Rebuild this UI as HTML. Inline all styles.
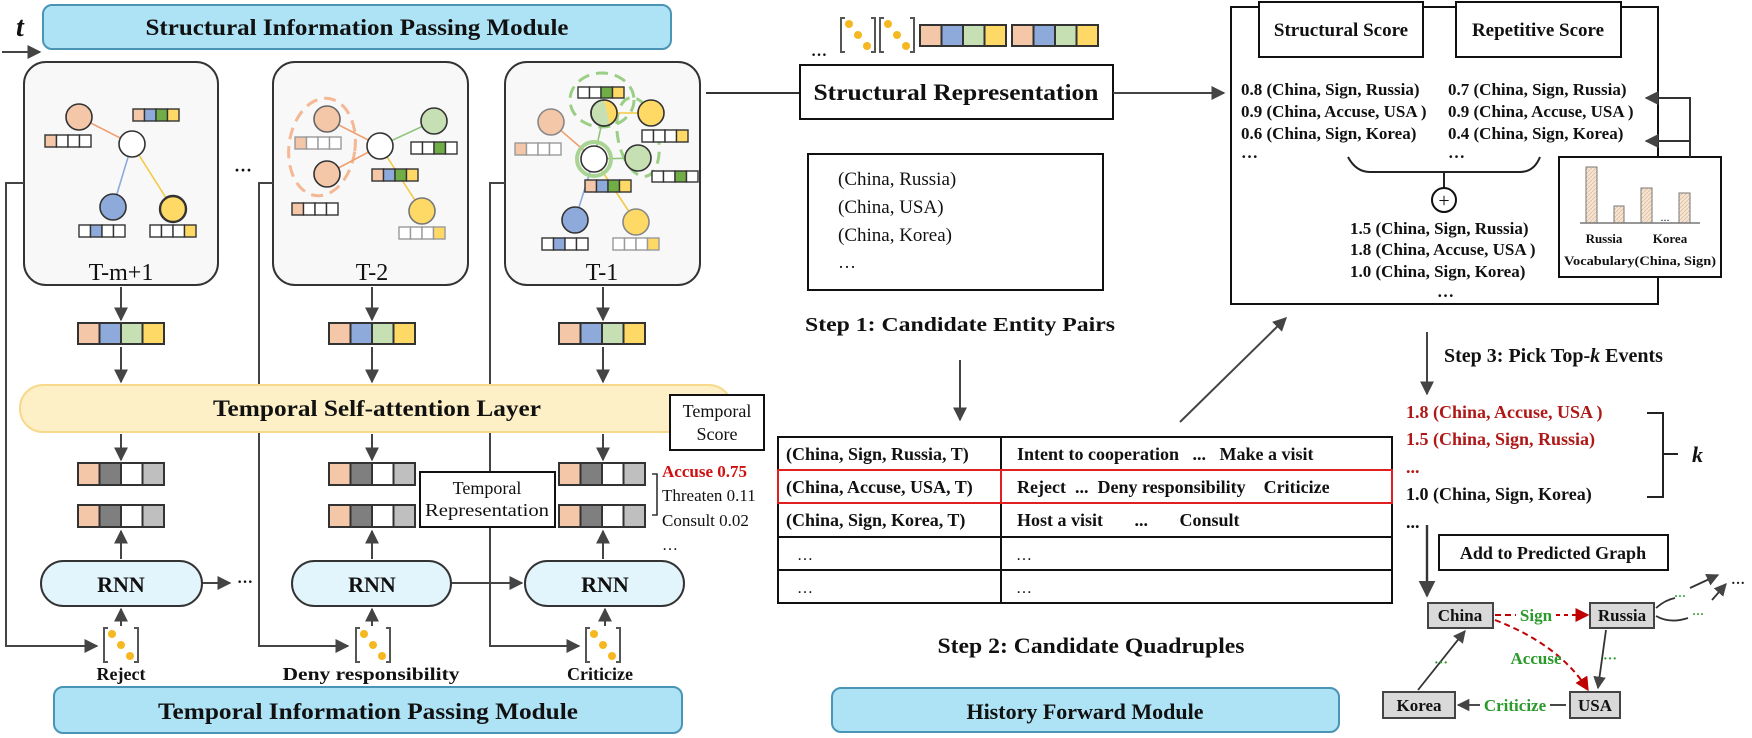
<!DOCTYPE html>
<html><head><meta charset="utf-8"><style>
html,body{margin:0;padding:0;background:#fff}
svg{display:block}
text{font-family:"Liberation Serif",serif;fill:#111}
.b{font-weight:bold}
</style></head><body>
<svg width="1752" height="738" viewBox="0 0 1752 738" xmlns="http://www.w3.org/2000/svg">
<defs>
<marker id="a" viewBox="0 0 10 10" refX="9" refY="5" markerWidth="7" markerHeight="7" orient="auto-start-reverse"><path d="M0,0L10,5L0,10z" fill="#444"/></marker>
<marker id="ar" viewBox="0 0 10 10" refX="9" refY="5" markerWidth="7" markerHeight="7" orient="auto"><path d="M0,0L10,5L0,10z" fill="#c00000"/></marker>
<pattern id="h" width="4" height="4" patternUnits="userSpaceOnUse"><rect width="4" height="4" fill="#f6e4d2"/><path d="M0,4L4,0" stroke="#d9b99a" stroke-width="0.7"/></pattern>
</defs>

<!-- top banner -->
<rect x="43" y="5" width="628" height="44" rx="9" fill="#aee2f5" stroke="#4a95b5" stroke-width="2"/>
<text x="357" y="35" text-anchor="middle" class="b" font-size="23" textLength="423" lengthAdjust="spacingAndGlyphs">Structural Information Passing Module</text>
<text x="16" y="36" font-size="28" font-style="italic" class="b">t</text>
<line x1="2" y1="52" x2="40" y2="52" stroke="#444" stroke-width="2" marker-end="url(#a)"/>

<!-- panels -->
<g fill="#f8f8f8" stroke="#333" stroke-width="2">
<rect x="24" y="62" width="194" height="223" rx="22"/>
<rect x="273" y="62" width="195" height="223" rx="22"/>
<rect x="505" y="62" width="195" height="223" rx="22"/>
</g>
<text x="243" y="176" font-size="18" class="b" text-anchor="middle">···</text>
<text x="121" y="280" font-size="24" text-anchor="middle">T-m+1</text>
<text x="372" y="280" font-size="24" text-anchor="middle">T-2</text>
<text x="602" y="280" font-size="24" text-anchor="middle">T-1</text>

<!-- T-m+1 graph -->
<g stroke-width="1.6">
<line x1="79" y1="117" x2="132" y2="144" stroke="#f0a070"/>
<line x1="132" y1="144" x2="113" y2="207" stroke="#8eaadb"/>
<line x1="132" y1="144" x2="173" y2="209" stroke="#f5c842"/>
</g>
<g stroke="#333" stroke-width="1.6">
<circle cx="79" cy="117" r="13" fill="#f4c7a9"/>
<circle cx="132" cy="144" r="13" fill="#fff"/>
<circle cx="113" cy="207" r="13" fill="#8eaadb"/>
<circle cx="173" cy="209" r="13" fill="#ffd966" stroke-width="2.4"/>
</g>
<g stroke="#333" stroke-width="1.4">
<rect x="45" y="135" width="11.5" height="12" fill="#f4c7a9"/><rect x="56.5" y="135" width="11.5" height="12" fill="#fff"/><rect x="68" y="135" width="11.5" height="12" fill="#fff"/><rect x="79.5" y="135" width="11.5" height="12" fill="#fff"/>
<rect x="133" y="109" width="11.5" height="12" fill="#f4c7a9"/><rect x="144.5" y="109" width="11.5" height="12" fill="#8eaadb"/><rect x="156" y="109" width="11.5" height="12" fill="#70ad47"/><rect x="167.5" y="109" width="11.5" height="12" fill="#ffd966"/>
<rect x="79" y="225" width="11.5" height="12" fill="#fff"/><rect x="90.5" y="225" width="11.5" height="12" fill="#8eaadb"/><rect x="102" y="225" width="11.5" height="12" fill="#fff"/><rect x="113.5" y="225" width="11.5" height="12" fill="#fff"/>
<rect x="150" y="225" width="11.5" height="12" fill="#fff"/><rect x="161.5" y="225" width="11.5" height="12" fill="#fff"/><rect x="173" y="225" width="11.5" height="12" fill="#fff"/><rect x="184.5" y="225" width="11.5" height="12" fill="#ffd966"/>
</g>

<!-- T-2 graph -->
<ellipse cx="322" cy="147" rx="33" ry="49" fill="none" stroke="#f4b894" stroke-width="3" stroke-dasharray="12 7" transform="rotate(8 322 147)"/>
<g stroke-width="1.6">
<line x1="327" y1="119" x2="380" y2="146" stroke="#f0a070"/>
<line x1="327" y1="174" x2="380" y2="146" stroke="#f0a070"/>
<line x1="380" y1="146" x2="434" y2="121" stroke="#8fc47a"/>
<line x1="380" y1="146" x2="422" y2="211" stroke="#f5c842"/>
</g>
<g stroke="#333" stroke-width="1.6">
<circle cx="327" cy="119" r="13" fill="#f4c7a9" stroke="#666"/>
<circle cx="327" cy="174" r="13" fill="#f4c7a9"/>
<circle cx="380" cy="146" r="13" fill="#fff"/>
<circle cx="434" cy="121" r="13" fill="#c6e0b4"/>
<circle cx="422" cy="211" r="13" fill="#ffd966" stroke="#777"/>
</g>
<g stroke="#333" stroke-width="1.4">
<g stroke="#999"><rect x="295" y="137" width="11.5" height="12" fill="#f4c7a9"/><rect x="306.5" y="137" width="11.5" height="12" fill="#fff"/><rect x="318" y="137" width="11.5" height="12" fill="#fff"/><rect x="329.5" y="137" width="11.5" height="12" fill="#fff"/></g>
<rect x="292" y="203" width="11.5" height="12" fill="#f4c7a9"/><rect x="303.5" y="203" width="11.5" height="12" fill="#fff"/><rect x="315" y="203" width="11.5" height="12" fill="#fff"/><rect x="326.5" y="203" width="11.5" height="12" fill="#fff"/>
<rect x="411" y="142" width="11.5" height="12" fill="#fff"/><rect x="422.5" y="142" width="11.5" height="12" fill="#fff"/><rect x="434" y="142" width="11.5" height="12" fill="#70ad47"/><rect x="445.5" y="142" width="11.5" height="12" fill="#fff"/>
<rect x="372" y="169" width="11.5" height="12" fill="#f4c7a9"/><rect x="383.5" y="169" width="11.5" height="12" fill="#8eaadb"/><rect x="395" y="169" width="11.5" height="12" fill="#70ad47"/><rect x="406.5" y="169" width="11.5" height="12" fill="#ffd966"/>
<g stroke="#999"><rect x="399" y="227" width="11.5" height="12" fill="#fff"/><rect x="410.5" y="227" width="11.5" height="12" fill="#fff"/><rect x="422" y="227" width="11.5" height="12" fill="#fff"/><rect x="433.5" y="227" width="11.5" height="12" fill="#ffd966"/></g>
</g>

<!-- T-1 graph -->
<ellipse cx="602" cy="100" rx="32" ry="27" fill="none" stroke="#9ccf86" stroke-width="3" stroke-dasharray="12 7"/>
<ellipse cx="638" cy="137" rx="20" ry="40" fill="none" stroke="#9ccf86" stroke-width="3" stroke-dasharray="12 7" transform="rotate(-12 638 137)"/>
<g stroke-width="1.6">
<line x1="551" y1="122" x2="594" y2="159" stroke="#f0a070"/>
<line x1="594" y1="159" x2="604" y2="113" stroke="#8fc47a"/>
<line x1="604" y1="113" x2="651" y2="113" stroke="#f5c842"/>
<line x1="594" y1="159" x2="638" y2="158" stroke="#8fc47a"/>
<line x1="594" y1="159" x2="575" y2="220" stroke="#8eaadb"/>
<line x1="594" y1="159" x2="636" y2="222" stroke="#f5c842"/>
</g>
<circle cx="594" cy="159" r="17" fill="none" stroke="#a9d494" stroke-width="4"/>
<g stroke="#333" stroke-width="1.6">
<circle cx="551" cy="122" r="13" fill="#f4c7a9" stroke="#888"/>
<circle cx="604" cy="113" r="13" fill="#c6e0b4"/>
<path d="M604,100 A13,13 0 0 1 610,125 Z" fill="#ffd966" stroke="none"/>
<circle cx="604" cy="113" r="13" fill="none"/>
<circle cx="651" cy="113" r="13" fill="#ffd966"/>
<circle cx="594" cy="159" r="13" fill="#fff"/>
<circle cx="638" cy="158" r="13" fill="#c6e0b4"/>
<circle cx="575" cy="220" r="13" fill="#8eaadb"/>
<circle cx="636" cy="222" r="13" fill="#ffd966" stroke="#888"/>
</g>
<g stroke="#333" stroke-width="1.4">
<rect x="578" y="87" width="11.5" height="11" fill="#fff"/><rect x="589.5" y="87" width="11.5" height="11" fill="#fff"/><rect x="601" y="87" width="11.5" height="11" fill="#70ad47"/><rect x="612.5" y="87" width="11.5" height="11" fill="#ffd966"/>
<rect x="642" y="130" width="11.5" height="12" fill="#fff"/><rect x="653.5" y="130" width="11.5" height="12" fill="#fff"/><rect x="665" y="130" width="11.5" height="12" fill="#fff"/><rect x="676.5" y="130" width="11.5" height="12" fill="#ffd966"/>
<g stroke="#999"><rect x="515" y="143" width="11.5" height="12" fill="#f4c7a9"/><rect x="526.5" y="143" width="11.5" height="12" fill="#fff"/><rect x="538" y="143" width="11.5" height="12" fill="#fff"/><rect x="549.5" y="143" width="11.5" height="12" fill="#fff"/></g>
<rect x="652" y="171" width="11.5" height="11" fill="#fff"/><rect x="663.5" y="171" width="11.5" height="11" fill="#fff"/><rect x="675" y="171" width="11.5" height="11" fill="#70ad47"/><rect x="686.5" y="171" width="11.5" height="11" fill="#fff"/>
<rect x="585" y="180" width="11.5" height="12" fill="#f4c7a9"/><rect x="596.5" y="180" width="11.5" height="12" fill="#8eaadb"/><rect x="608" y="180" width="11.5" height="12" fill="#70ad47"/><rect x="619.5" y="180" width="11.5" height="12" fill="#ffd966"/>
<rect x="542" y="238" width="11.5" height="12" fill="#fff"/><rect x="553.5" y="238" width="11.5" height="12" fill="#8eaadb"/><rect x="565" y="238" width="11.5" height="12" fill="#fff"/><rect x="576.5" y="238" width="11.5" height="12" fill="#fff"/>
<g stroke="#999"><rect x="613" y="238" width="11.5" height="12" fill="#fff"/><rect x="624.5" y="238" width="11.5" height="12" fill="#fff"/><rect x="636" y="238" width="11.5" height="12" fill="#fff"/><rect x="647.5" y="238" width="11.5" height="12" fill="#ffd966"/></g>
</g>

<!-- feed lines -->
<g fill="none" stroke="#444" stroke-width="2">
<path d="M24,183H6V646H97" marker-end="url(#a)"/>
<path d="M273,183H259V646H348" marker-end="url(#a)"/>
<path d="M505,183H490V646H579" marker-end="url(#a)"/>
</g>

<!-- yellow layer -->
<rect x="20" y="385" width="712" height="47" rx="23" fill="#fdf0c6" stroke="#f7d98c" stroke-width="2"/>
<text x="377" y="416" text-anchor="middle" class="b" font-size="23" textLength="328" lengthAdjust="spacingAndGlyphs">Temporal Self-attention Layer</text>

<!-- columns -->
<g stroke="#444" stroke-width="2" marker-end="url(#a)">
<line x1="121" y1="287" x2="121" y2="320"/><line x1="372" y1="287" x2="372" y2="320"/><line x1="603" y1="287" x2="603" y2="320"/>
<line x1="121" y1="347" x2="121" y2="382"/><line x1="372" y1="347" x2="372" y2="382"/><line x1="603" y1="347" x2="603" y2="382"/>
<line x1="121" y1="434" x2="121" y2="460"/><line x1="372" y1="434" x2="372" y2="460"/><line x1="603" y1="434" x2="603" y2="460"/>
<line x1="121" y1="559" x2="121" y2="531"/><line x1="372" y1="559" x2="372" y2="531"/><line x1="603" y1="559" x2="603" y2="531"/>
<line x1="121" y1="626" x2="121" y2="609"/><line x1="372" y1="626" x2="372" y2="609"/><line x1="605" y1="626" x2="605" y2="609"/>
<line x1="202" y1="583" x2="230" y2="583"/><line x1="451" y1="583" x2="522" y2="583"/>
</g>
<text x="245" y="587" class="b" font-size="16" text-anchor="middle">···</text>

<g stroke="#333" stroke-width="2">
<g id="v1"><rect x="78" y="323" width="21.5" height="21" fill="#f4c7a9"/><rect x="99.5" y="323" width="21.5" height="21" fill="#8eaadb"/><rect x="121" y="323" width="21.5" height="21" fill="#c6e0b4"/><rect x="142.5" y="323" width="21.5" height="21" fill="#ffd966"/></g>
<use href="#v1" x="251"/><use href="#v1" x="481"/>
<g id="v2"><rect x="78" y="463" width="21.5" height="22" fill="#f4c7a9"/><rect x="99.5" y="463" width="21.5" height="22" fill="#7f7f7f"/><rect x="121" y="463" width="21.5" height="22" fill="#fff"/><rect x="142.5" y="463" width="21.5" height="22" fill="#bfbfbf"/></g>
<use href="#v2" x="251"/><use href="#v2" x="481"/>
<use href="#v2" y="42"/><use href="#v2" x="251" y="42"/><use href="#v2" x="481" y="42"/>
</g>

<!-- Temporal score / rep boxes -->
<rect x="670" y="395" width="94" height="55" fill="#fff" stroke="#111" stroke-width="2"/>
<text x="717" y="417" text-anchor="middle" font-size="18">Temporal</text>
<text x="717" y="440" text-anchor="middle" font-size="18">Score</text>
<rect x="420" y="472" width="135" height="55" fill="#fff" stroke="#111" stroke-width="2"/>
<text x="487" y="494" text-anchor="middle" font-size="18">Temporal</text>
<text x="487" y="516" text-anchor="middle" font-size="18" textLength="124" lengthAdjust="spacingAndGlyphs">Representation</text>
<path d="M652,474H657V515H652" fill="none" stroke="#333" stroke-width="1.6"/>
<text x="662" y="477" font-size="17" class="b" style="fill:#d01010">Accuse 0.75</text>
<text x="662" y="501" font-size="17">Threaten 0.11</text>
<text x="662" y="526" font-size="17">Consult 0.02</text>
<text x="662" y="550" font-size="16">…</text>

<!-- RNN -->
<g fill="#e2f5fd" stroke="#333" stroke-width="2">
<rect x="41" y="561" width="161" height="45" rx="22.5"/>
<rect x="292" y="561" width="159" height="45" rx="22.5"/>
<rect x="525" y="561" width="159" height="45" rx="22.5"/>
</g>
<text x="121" y="592" text-anchor="middle" class="b" font-size="22">RNN</text>
<text x="372" y="592" text-anchor="middle" class="b" font-size="22">RNN</text>
<text x="605" y="592" text-anchor="middle" class="b" font-size="22">RNN</text>

<!-- brackets -->
<g id="br">
<path d="M108,628H104V662H108M134,628H138V662H134" fill="none" stroke="#555" stroke-width="2"/>
<circle cx="112" cy="634" r="4" fill="#f5b820"/><circle cx="121" cy="645" r="4" fill="#f5b820"/><circle cx="130" cy="656" r="4" fill="#f5b820"/>
</g>
<use href="#br" x="252"/><use href="#br" x="482"/>
<text x="121" y="680" text-anchor="middle" class="b" font-size="18">Reject</text>
<text x="371" y="680" text-anchor="middle" class="b" font-size="18" textLength="177" lengthAdjust="spacingAndGlyphs">Deny responsibility</text>
<text x="600" y="680" text-anchor="middle" class="b" font-size="18">Criticize</text>

<rect x="54" y="687" width="628" height="46" rx="9" fill="#aee2f5" stroke="#4a95b5" stroke-width="2"/>
<text x="368" y="719" text-anchor="middle" class="b" font-size="23" textLength="420" lengthAdjust="spacingAndGlyphs">Temporal Information Passing Module</text>

<!-- middle top -->
<text x="819" y="56" class="b" font-size="16" text-anchor="middle">…</text>
<use href="#br" transform="translate(737,-610)"/>
<use href="#br" transform="translate(776,-610)"/>
<g stroke="#333" stroke-width="2">
<rect x="920" y="25" width="21.5" height="21" fill="#f4c7a9"/><rect x="941.5" y="25" width="21.5" height="21" fill="#8eaadb"/><rect x="963" y="25" width="21.5" height="21" fill="#c6e0b4"/><rect x="984.5" y="25" width="21.5" height="21" fill="#ffd966"/>
<rect x="1012" y="25" width="21.5" height="21" fill="#f4c7a9"/><rect x="1033.5" y="25" width="21.5" height="21" fill="#8eaadb"/><rect x="1055" y="25" width="21.5" height="21" fill="#c6e0b4"/><rect x="1076.5" y="25" width="21.5" height="21" fill="#ffd966"/>
</g>
<line x1="706" y1="93" x2="800" y2="93" stroke="#333" stroke-width="2"/>
<rect x="800" y="65" width="313" height="54" fill="#fff" stroke="#111" stroke-width="2"/>
<text x="956" y="100" text-anchor="middle" class="b" font-size="23" textLength="285" lengthAdjust="spacingAndGlyphs">Structural Representation</text>
<line x1="1113" y1="93" x2="1224" y2="93" stroke="#444" stroke-width="2" marker-end="url(#a)"/>

<rect x="808" y="154" width="295" height="136" fill="#fff" stroke="#111" stroke-width="2"/>
<text x="838" y="185" font-size="19">(China, Russia)</text>
<text x="838" y="213" font-size="19">(China, USA)</text>
<text x="838" y="241" font-size="19">(China, Korea)</text>
<text x="838" y="268" font-size="18">…</text>
<text x="960" y="331" text-anchor="middle" class="b" font-size="20" textLength="310" lengthAdjust="spacingAndGlyphs">Step 1: Candidate Entity Pairs</text>
<line x1="960" y1="360" x2="960" y2="420" stroke="#444" stroke-width="2" marker-end="url(#a)"/>
<line x1="1180" y1="422" x2="1286" y2="318" stroke="#444" stroke-width="2" marker-end="url(#a)"/>

<!-- table -->
<g stroke="#111" stroke-width="2" fill="none">
<rect x="778" y="437" width="614" height="166"/>
<line x1="778" y1="537" x2="1392" y2="537"/><line x1="778" y1="570" x2="1392" y2="570"/>
<line x1="1001" y1="437" x2="1001" y2="603"/>
</g>
<rect x="778" y="470" width="614" height="33" fill="none" stroke="#e02020" stroke-width="2"/>
<line x1="1001" y1="470" x2="1001" y2="503" stroke="#e02020" stroke-width="2"/>
<g font-size="18" class="b">
<text x="786" y="460">(China, Sign, Russia, T)</text>
<text x="786" y="493">(China, Accuse, USA, T)</text>
<text x="786" y="526">(China, Sign, Korea, T)</text>
<text x="1017" y="460" xml:space="preserve">Intent to cooperation   ...   Make a visit</text>
<text x="1017" y="493" xml:space="preserve">Reject  ...  Deny responsibility    Criticize</text>
<text x="1017" y="526" xml:space="preserve">Host a visit       ...       Consult</text>
</g>
<text x="797" y="560" font-size="16">…</text><text x="797" y="593" font-size="16">…</text>
<text x="1016" y="560" font-size="16">…</text><text x="1016" y="593" font-size="16">…</text>
<text x="1091" y="653" text-anchor="middle" class="b" font-size="22" textLength="307" lengthAdjust="spacingAndGlyphs">Step 2: Candidate Quadruples</text>
<rect x="832" y="688" width="507" height="44" rx="9" fill="#aee2f5" stroke="#4a95b5" stroke-width="2"/>
<text x="1085" y="719" text-anchor="middle" class="b" font-size="22">History Forward Module</text>

<!-- right box -->
<rect x="1231" y="7" width="427" height="297" fill="#fff" stroke="#111" stroke-width="2"/>
<rect x="1259" y="2" width="164" height="55" fill="#fff" stroke="#111" stroke-width="2"/>
<rect x="1456" y="2" width="165" height="55" fill="#fff" stroke="#111" stroke-width="2"/>
<text x="1341" y="36" text-anchor="middle" class="b" font-size="19">Structural Score</text>
<text x="1538" y="36" text-anchor="middle" class="b" font-size="19">Repetitive Score</text>
<g font-size="17" class="b">
<text x="1241" y="95">0.8 (China, Sign, Russia)</text>
<text x="1241" y="117">0.9 (China, Accuse, USA )</text>
<text x="1241" y="139">0.6 (China, Sign, Korea)</text>
<text x="1241" y="158">…</text>
<text x="1448" y="95">0.7 (China, Sign, Russia)</text>
<text x="1448" y="117">0.9 (China, Accuse, USA )</text>
<text x="1448" y="139">0.4 (China, Sign, Korea)</text>
<text x="1448" y="158">…</text>
<text x="1350" y="234">1.5 (China, Sign, Russia)</text>
<text x="1350" y="255">1.8 (China, Accuse, USA )</text>
<text x="1350" y="277">1.0 (China, Sign, Korea)</text>
<text x="1437" y="297">…</text>
</g>
<path d="M1348,157Q1356,172 1370,172H1520Q1534,172 1540,157M1444,172V188" fill="none" stroke="#222" stroke-width="2"/>
<circle cx="1444" cy="200" r="12" fill="#fff" stroke="#111" stroke-width="2"/>
<text x="1444" y="207" text-anchor="middle" font-size="20">+</text>

<rect x="1559" y="157" width="162" height="120" fill="#fff" stroke="#111" stroke-width="2"/>
<g fill="url(#h)" stroke="#777" stroke-width="1">
<rect x="1586" y="167" width="11" height="56"/><rect x="1614" y="206" width="10" height="17"/><rect x="1641" y="188" width="11" height="35"/><rect x="1679" y="193" width="11" height="30"/>
</g>
<line x1="1580" y1="223" x2="1700" y2="223" stroke="#777" stroke-width="1.5"/>
<text x="1665" y="221" font-size="12" text-anchor="middle">...</text>
<text x="1604" y="243" text-anchor="middle" class="b" font-size="13">Russia</text>
<text x="1670" y="243" text-anchor="middle" class="b" font-size="13">Korea</text>
<text x="1640" y="265" text-anchor="middle" class="b" font-size="13" textLength="152" lengthAdjust="spacingAndGlyphs">Vocabulary(China, Sign)</text>
<path d="M1690,157V98H1648M1690,141H1648" fill="none" stroke="#333" stroke-width="2"/>
<line x1="1660" y1="98" x2="1646" y2="98" stroke="#333" stroke-width="2" marker-end="url(#a)"/>
<line x1="1660" y1="141" x2="1646" y2="141" stroke="#333" stroke-width="2" marker-end="url(#a)"/>

<!-- step 3 -->
<line x1="1427" y1="332" x2="1427" y2="394" stroke="#444" stroke-width="2" marker-end="url(#a)"/>
<text x="1444" y="362" class="b" font-size="20">Step 3: Pick Top-<tspan font-style="italic">k</tspan> Events</text>
<g font-size="18" class="b">
<text x="1406" y="418" style="fill:#b01818">1.8 (China, Accuse, USA )</text>
<text x="1406" y="445" style="fill:#b01818">1.5 (China, Sign, Russia)</text>
<text x="1406" y="473" style="fill:#b01818">...</text>
<text x="1406" y="500">1.0 (China, Sign, Korea)</text>
<text x="1406" y="528">...</text>
</g>
<path d="M1647,413H1663V497H1647M1663,454H1678" fill="none" stroke="#222" stroke-width="2"/>
<text x="1692" y="462" font-size="22" font-style="italic" class="b">k</text>
<line x1="1427" y1="525" x2="1427" y2="596" stroke="#333" stroke-width="2.4" marker-end="url(#a)"/>
<rect x="1439" y="535" width="229" height="35" fill="#fff" stroke="#111" stroke-width="2"/>
<text x="1553" y="559" text-anchor="middle" class="b" font-size="18">Add to Predicted Graph</text>

<!-- predicted graph -->
<g fill="#d9d9d9" stroke="#444" stroke-width="2">
<rect x="1428" y="603" width="65" height="25"/><rect x="1590" y="603" width="64" height="25"/>
<rect x="1383" y="692" width="72" height="26"/><rect x="1570" y="692" width="50" height="26"/>
</g>
<g font-size="17" class="b" text-anchor="middle">
<text x="1460" y="621">China</text><text x="1622" y="621">Russia</text>
<text x="1419" y="711">Korea</text><text x="1595" y="711">USA</text>
</g>
<line x1="1495" y1="615" x2="1516" y2="615" stroke="#c00000" stroke-width="2" stroke-dasharray="6 4"/>
<line x1="1556" y1="615" x2="1588" y2="615" stroke="#c00000" stroke-width="2" stroke-dasharray="4 4" marker-end="url(#ar)"/>
<text x="1536" y="621" text-anchor="middle" font-size="17" class="b" style="fill:#2a9a2a">Sign</text>
<path d="M1495,620Q1560,645 1588,690" fill="none" stroke="#c00000" stroke-width="2" stroke-dasharray="6 4" marker-end="url(#ar)"/>
<text x="1536" y="664" text-anchor="middle" font-size="17" class="b" style="fill:#2a9a2a">Accuse</text>
<line x1="1606" y1="630" x2="1598" y2="688" stroke="#333" stroke-width="1.8" marker-end="url(#a)"/>
<text x="1603" y="663" font-size="14" class="b" style="fill:#2a9a2a">···</text>
<line x1="1566" y1="705" x2="1550" y2="705" stroke="#333" stroke-width="1.8"/>
<text x="1515" y="711" text-anchor="middle" font-size="17" class="b" style="fill:#2a9a2a">Criticize</text>
<line x1="1480" y1="705" x2="1458" y2="705" stroke="#333" stroke-width="1.8" marker-end="url(#a)"/>
<line x1="1418" y1="690" x2="1465" y2="631" stroke="#333" stroke-width="1.8" marker-end="url(#a)"/>
<text x="1434" y="667" font-size="14" class="b" style="fill:#2a9a2a">···</text>
<path d="M1656,608Q1665,600 1675,598" fill="none" stroke="#333" stroke-width="1.8"/>
<text x="1674" y="600" font-size="12" class="b" style="fill:#2a9a2a">···</text>
<line x1="1690" y1="588" x2="1718" y2="575" stroke="#333" stroke-width="1.8" marker-end="url(#a)"/>
<path d="M1656,616Q1670,624 1688,618" fill="none" stroke="#333" stroke-width="1.8"/>
<text x="1692" y="618" font-size="12" class="b" style="fill:#2a9a2a">···</text>
<line x1="1712" y1="600" x2="1726" y2="584" stroke="#333" stroke-width="1.8" marker-end="url(#a)"/>
<text x="1738" y="584" font-size="14" class="b" text-anchor="middle">…</text>
</svg>
</body></html>
